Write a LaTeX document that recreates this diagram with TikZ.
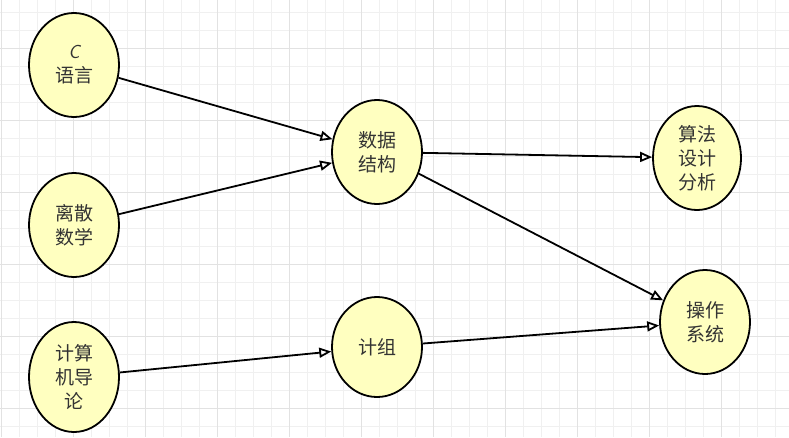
\documentclass[tikz,border=0pt]{standalone}
\usepackage{fontspec}
\newfontfamily\cjk{Noto Sans CJK SC}
\usetikzlibrary{arrows.meta,shapes.geometric}
\begin{document}
\begin{tikzpicture}[x=1pt,y=-1pt,
  nd/.style={ellipse,draw=black,line width=1.8pt,fill={rgb,255:red,255;green,255;blue,192},minimum width=90pt,minimum height=104pt,inner sep=0pt,align=center,font=\cjk\fontsize{19}{24}\selectfont,text={rgb,255:red,51;green,51;blue,51}},
  ar/.style={line width=1.8pt,-{Triangle[open,length=12pt,width=10pt]}}]
\useasboundingbox (0,0) rectangle (789,437);
\fill[white] (0,0) rectangle (789,437);
\foreach \x in {1,19,...,789} \draw[line width=0.6pt,color={rgb,255:red,240;green,240;blue,240}] (\x,0) -- (\x,437);
\foreach \y in {12,30,...,437} \draw[line width=0.6pt,color={rgb,255:red,240;green,240;blue,240}] (0,\y) -- (789,\y);
\foreach \x in {1,73,...,789} \draw[line width=0.8pt,color={rgb,255:red,226;green,226;blue,226}] (\x,0) -- (\x,437);
\foreach \y in {48,120,...,437} \draw[line width=0.8pt,color={rgb,255:red,226;green,226;blue,226}] (0,\y) -- (789,\y);
\node[nd] (c) at (74,65) {{\sffamily\itshape C}\\语言};
\node[nd] (ls) at (74,225) {离散\\数学};
\node[nd,minimum height=110pt] (jd) at (74,377) {计算\\机导\\论};
\node[nd] (sj) at (377,152) {数据\\结构};
\node[nd,minimum height=100pt] (jz) at (377,347) {计组};
\node[nd,minimum width=88pt] (sf) at (697,158) {算法\\设计\\分析};
\node[nd] (cz) at (705,322) {操作\\系统};
\draw[ar] (c) -- (sj);
\draw[ar] (ls) -- (sj);
\draw[ar] (jd) -- (jz);
\draw[ar] (sj) -- (sf);
\draw[ar] (sj) -- (cz);
\draw[ar] (jz) -- (cz);
\end{tikzpicture}
\end{document}
